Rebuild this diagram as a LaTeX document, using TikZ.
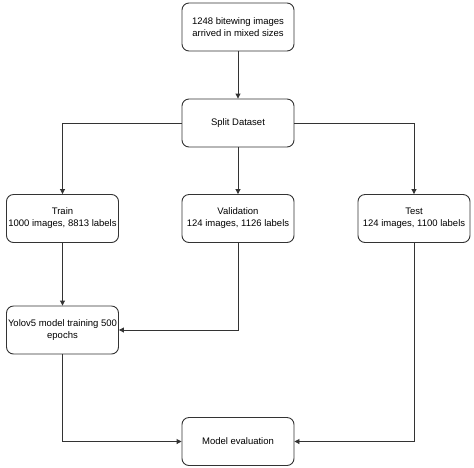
\documentclass[tikz,border=0pt]{standalone}
\usepackage{fontspec}
\setmainfont{Liberation Sans}
\usetikzlibrary{arrows.meta}

\begin{document}
\begin{tikzpicture}[x=1pt,y=-1pt,
    box/.style={draw=black!80,line width=0.9pt,rounded corners=7pt,minimum width=112pt,minimum height=48pt,align=center,inner sep=1pt,font=\fontsize{9.5}{12}\selectfont},
    link/.style={draw=black!80,line width=0.9pt,-{Triangle[length=5pt,width=5pt]}}]
    \useasboundingbox (0,0) rectangle (474,467);
    \node[box] (images) at (238,27) {1248 bitewing images\\arrived in mixed sizes};
    \node[box] (split) at (238,123) {Split Dataset};
    \node[box] (train) at (62.5,218.5) {Train\\1000 images, 8813 labels};
    \node[box] (valid) at (238,218.5) {Validation\\124 images, 1126 labels};
    \node[box] (test) at (414,218.5) {Test\\124 images, 1100 labels};
    \node[box] (yolo) at (62.5,330) {Yolov5 model training 500\\epochs};
    \node[box] (eval) at (238,441.5) {Model evaluation};
    \draw[link] (images) -- (split);
    \draw[link] (split) -- (valid);
    \draw[link] (split.west) -| (train.north);
    \draw[link] (split.east) -| (test.north);
    \draw[link] (train) -- (yolo);
    \draw[link] (valid.south) |- (yolo.east);
    \draw[link] (yolo.south) |- (eval.west);
    \draw[link] (test.south) |- (eval.east);
\end{tikzpicture}
\end{document}
